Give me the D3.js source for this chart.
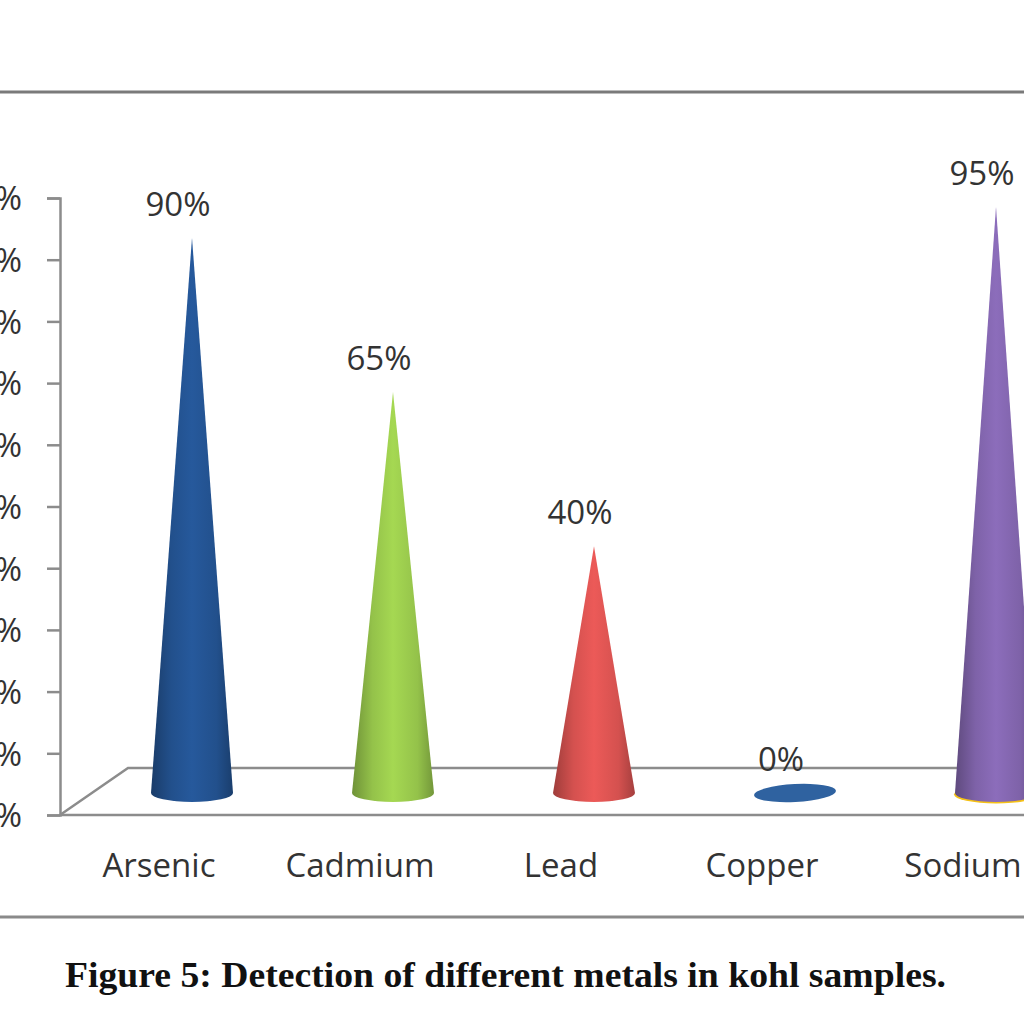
<!DOCTYPE html>
<html>
<head>
<meta charset="utf-8">
<script src="https://cdn.jsdelivr.net/npm/d3@7"></script>
<style>
  body { margin: 0; background: #fff; }
  svg { display: block; }
</style>
</head>
<body>
<svg width="1024" height="1024"></svg>
<script>
// chart data
var metals = ["Arsenic", "Cadmium", "Lead", "Copper", "Sodium"];
var detected = [90, 65, 40, 0, 95];
var coneColors = ["#22508c", "#94c24a", "#d4514f", "#2f62a0", "#7e62a8"];
var tickValues = [0, 10, 20, 30, 40, 50, 60, 70, 80, 90, 100];

var svg = d3.select("svg");
var labelFont = "'Open Sans', sans-serif";

// frame lines
svg.append("line").attr("x1", 0).attr("x2", 1024).attr("y1", 92).attr("y2", 92)
  .attr("stroke", "#7a7a7a").attr("stroke-width", 3);
svg.append("line").attr("x1", 0).attr("x2", 1024).attr("y1", 917).attr("y2", 917)
  .attr("stroke", "#8a8a8a").attr("stroke-width", 3);

// scales
var x = d3.scalePoint().domain(metals).range([192, 996]);
var y = d3.scaleLinear().domain([0, 100]).range([815, 198]);
var yCone = d3.scaleLinear().domain([0, 100]).range([793, 176]); // back plane (depth offset)
var depth = { dx: 68, dy: -47 };

// y axis (labels run off the left edge like in the original crop)
var yAxis = d3.axisLeft(y).tickValues(tickValues).tickSize(13).tickFormat(function(d){ return d + "%"; });
var ga = svg.append("g").attr("transform", "translate(60,0)").call(yAxis);
ga.select(".domain").attr("stroke", "#8c8c8c").attr("stroke-width", 2.5);
ga.selectAll(".tick line").attr("stroke", "#8c8c8c").attr("stroke-width", 2.5);
ga.selectAll(".tick text").attr("x", -38).attr("dy", "0.36em")
  .attr("font-family", labelFont).attr("font-size", 33).attr("fill", "#333");

// floor
svg.append("path")
  .attr("d", "M60," + y(0) + " L" + (60 + depth.dx) + "," + (y(0) + depth.dy) + " L1024," + (y(0) + depth.dy))
  .attr("fill", "none").attr("stroke", "#8c8c8c").attr("stroke-width", 2.5);
svg.append("line").attr("x1", 60).attr("x2", 1024).attr("y1", y(0)).attr("y2", y(0))
  .attr("stroke", "#8c8c8c").attr("stroke-width", 2.5);

// gradients
var defs = svg.append("defs");
coneColors.forEach(function(c, i) {
  var g = defs.append("linearGradient").attr("id", "grad" + i)
    .attr("x1", "0%").attr("x2", "100%").attr("y1", "0%").attr("y2", "0%");
  var base = d3.color(c);
  g.append("stop").attr("offset", "0%").attr("stop-color", base.darker(0.8));
  g.append("stop").attr("offset", "25%").attr("stop-color", base);
  g.append("stop").attr("offset", "50%").attr("stop-color", base.brighter(0.3));
  g.append("stop").attr("offset", "80%").attr("stop-color", base);
  g.append("stop").attr("offset", "100%").attr("stop-color", base.darker(0.7));
});

var rx = 41, ry = 9;

metals.forEach(function(m, i) {
  var cx = x(m), by = yCone(0), top = yCone(detected[i]);
  if (detected[i] > 0) {
    if (m === "Sodium") {
      svg.append("ellipse").attr("cx", cx).attr("cy", by + 1.5).attr("rx", rx + 1).attr("ry", ry)
        .attr("fill", "#f5c116");
    }
    svg.append("path")
      .attr("d", "M" + cx + "," + top + " L" + (cx - rx) + "," + by +
        " A" + rx + "," + ry + " 0 0 0 " + (cx + rx) + "," + by + " Z")
      .attr("fill", "url(#grad" + i + ")");
  } else {
    svg.append("ellipse").attr("cx", cx).attr("cy", by).attr("rx", rx).attr("ry", ry)
      .attr("fill", coneColors[i]).attr("transform", "rotate(-3," + cx + "," + by + ")");
  }
  svg.append("text").attr("x", cx - 14).attr("y", top - 22)
    .attr("text-anchor", "middle")
    .attr("font-family", labelFont).attr("font-size", 33).attr("fill", "#333")
    .text(detected[i] + "%");
  svg.append("text").attr("x", cx - 33).attr("y", 877)
    .attr("text-anchor", "middle")
    .attr("font-family", labelFont).attr("font-size", 33).attr("fill", "#333")
    .text(m);
});

// caption
svg.append("text").attr("x", 65).attr("y", 987)
  .attr("font-family", "'Liberation Serif', 'Times New Roman', serif")
  .attr("font-weight", "bold").attr("font-size", 35).attr("fill", "#111")
  .attr("textLength", 881).attr("lengthAdjust", "spacingAndGlyphs")
  .text("Figure 5: Detection of different metals in kohl samples.");
</script>
</body>
</html>
